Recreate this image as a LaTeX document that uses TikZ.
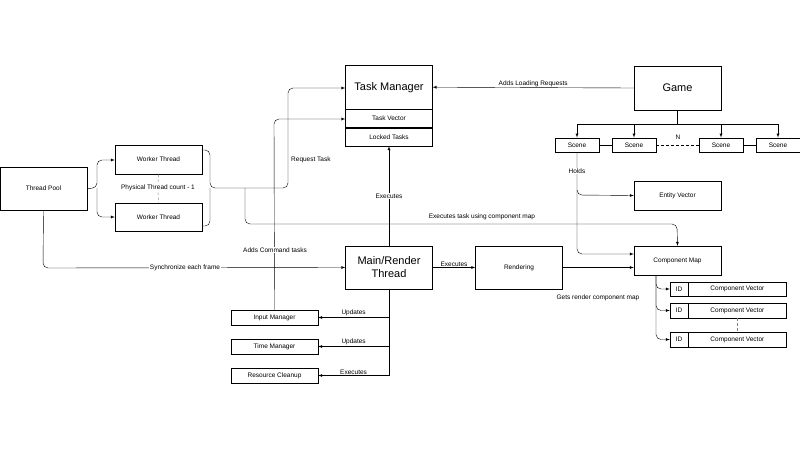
\documentclass[tikz,border=0pt]{standalone}
\usepackage{fontspec}
\setmainfont{Liberation Sans}
\usetikzlibrary{calc}
\begin{document}
\begin{tikzpicture}[x=1pt, y=-1pt, >=latex,
  lbl/.style={font=\fontsize{6.5}{8}\selectfont, inner sep=1pt},
  box/.style={draw, minimum width=87pt, font=\fontsize{6.5}{8}\selectfont},
  big/.style={draw, minimum width=87pt, font=\fontsize{11}{13}\selectfont, align=center},
  small/.style={draw, minimum height=14.5pt, inner sep=0pt, font=\fontsize{6.5}{8}\selectfont}]
\useasboundingbox (0,0) rectangle (800,450);

\node [box, minimum height=43pt] (pool) at (43.5, 188.5) {Thread Pool};
\node [box, minimum height=29pt] (wt1) at (158.5, 159.5) {Worker Thread};
\node [box, minimum height=28pt] (wt2) at (158.5, 217) {Worker Thread};
\node [lbl, fill=white] (count) at (158, 188) {Physical Thread count - 1};

\node [big, minimum height=44pt, anchor=north] (tm) at (389, 65) {Task Manager};
\node [box, minimum height=18pt, anchor=north] (tv) at (tm.south) {Task Vector};
\node [box, minimum height=18pt, anchor=north] (lt) at (tv.south) {Locked Tasks};

\node [big, minimum height=44pt] (game) at (677.5, 88) {Game};
\node [small, minimum width=44pt] (s1) at (577, 145) {Scene};
\node [small, minimum width=44pt] (s2) at (634, 145) {Scene};
\node [small, minimum width=44pt] (s3) at (721, 145) {Scene};
\node [small, minimum width=44pt] (s4) at (778, 145) {Scene};
\node [lbl] (n) at (678, 137) {N};

\node [box, minimum height=29pt] (ev) at (677.5, 195.5) {Entity Vector};
\node [box, minimum height=29pt] (cm) at (677.5, 260.5) {Component Map};
\node [box, minimum height=43pt] (rend) at (519, 267.5) {Rendering};
\node [big, minimum height=43pt] (main) at (389, 267.5) {Main/Render\\Thread};

\foreach \i/\y in {1/289, 2/310.5, 3/339.5} {
  \node [small, minimum width=18pt] (id\i) at (679, \y) {ID};
  \node [small, minimum width=98pt, anchor=west] (cv\i) at (id\i.east) {Component Vector};
}

\node [small, minimum width=87pt] (input) at (274.5, 317.5) {Input Manager};
\node [small, minimum width=87pt] (time) at (274.5, 346.5) {Time Manager};
\node [small, minimum width=87pt] (clean) at (274.5, 375.5) {Resource Cleanup};

% thread pool fan-out
\coordinate (lb) at (97, 188);
\coordinate (rb) at (218, 188);
\draw [->, rounded corners=5] (pool.east) -- (lb) -- (97, 160) -- (wt1.west |- 0,160);
\draw [->, rounded corners=5] (lb) -- (97, 217) -- (wt2.west |- 0,217);
\draw [rounded corners=5] (wt1.east |- 0,150) -- (210, 150) -- (210, 188) -- (rb);
\draw [rounded corners=5] (wt2.east |- 0,226) -- (210, 226) -- (210, 188);
\draw [densely dashed, gray] (wt1.south) -- (count.north);
\draw [densely dashed, gray] (count.south) -- (wt2.north);

% task manager links
\draw [->, rounded corners=5] (rb) -- (288, 188) -- (288, 88) -- (tm.west |- 0,88);
\node [lbl, anchor=west] at (290, 160) {Request Task};
\draw [->, rounded corners=5] (input.north) -- (274, 119) -- (tv.west |- 0,119);
\node [lbl, fill=white] at (275, 250) {Adds Command tasks};
\draw [->] (main.north) -- (lt.south) node [lbl, midway, fill=white] {Executes};
\draw [->] (game.west) -- (tm.east) node [lbl, midway, above] {Adds Loading Requests};
\draw [->, rounded corners=5] (245, 188) -- (245, 224) -- (677, 224) -- (cm.north);
\node [lbl, fill=white] at (482, 217) {Executes task using component map};

% main thread
\draw [->, rounded corners=5] (pool.south) -- (43, 268) -- (main.west);
\node [lbl, fill=white] at (185, 268) {Synchronize each frame};
\draw [->] (main.east) -- (rend.west) node [lbl, midway, above] {Executes};
\draw [->] (rend.east) -- (cm.west |- rend.east);
\node [lbl] at (598, 298) {Gets render component map};
\draw (main.south) -- (389, 375.5);
\draw [->] (389, 317.5) -- (input.east) node [lbl, midway, above] {Updates};
\draw [->] (389, 346.5) -- (time.east) node [lbl, midway, above] {Updates};
\draw [->] (389, 375.5) -- (clean.east) node [lbl, midway, above] {Executes};

% game and scenes
\draw (game.south) -- (677.5, 124);
\draw (577, 124) -- (778, 124);
\foreach \s in {s1, s2, s3, s4} \draw [->] (\s.north |- 0,124) -- (\s.north);
\draw (s1) -- (s2);
\draw [densely dashed] (s2) -- (s3);
\draw (s3) -- (s4);
\draw [->, rounded corners=5] (s1.south) -- (577, 254) -- (cm.west |- 0,254);
\draw [->, rounded corners=5] (577, 190) -- (577, 195) -- (ev.west);
\node [lbl, fill=white] at (577, 171) {Holds};

% component vectors
\foreach \i in {1, 2, 3}
  \draw [->, rounded corners=5] (656, 275) -- (656, 0 |- id\i.west) -- (id\i.west);
\draw [densely dashed, gray] (cv2.south) -- (cv3.north);
\end{tikzpicture}
\end{document}
